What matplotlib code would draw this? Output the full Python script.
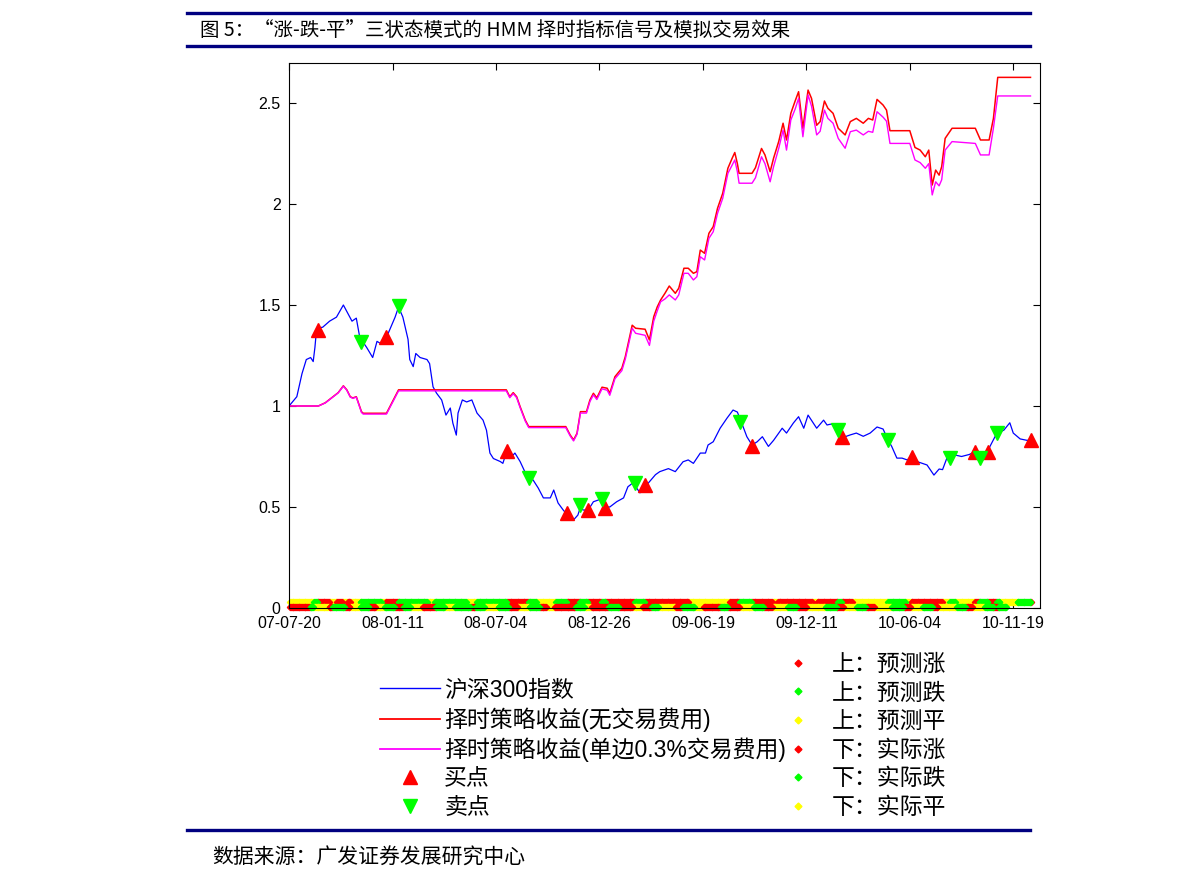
import matplotlib.pyplot as plt
from matplotlib.lines import Line2D
import numpy as np

plt.rcParams['font.family'] = ['Liberation Sans', 'Noto Sans CJK SC']

# ---- data (trading-day index from 07-07-20) ----
hs300_day = [0, 9, 15, 20, 25, 28, 30, 32, 39, 47, 55, 63, 68, 73, 78, 82, 90, 97, 102, 106,
             109, 113, 117, 123, 127, 132, 138, 140, 144, 147, 152, 160, 163, 167, 171, 177, 182, 187, 190, 194,
             196, 201, 206, 212, 218, 225, 229, 233, 237, 245, 248, 251, 253, 256, 262, 268, 274, 278, 283, 289,
             295, 303, 307, 312, 318, 321, 330, 335, 338, 341, 347, 353, 359, 363, 367, 372, 380, 388, 393, 399,
             407, 415, 425, 430, 440, 448, 457, 463, 469, 477, 483, 486, 492, 500, 508, 515, 520, 525, 531, 537,
             543, 549, 556, 562, 572, 577, 585, 591, 597, 602, 612, 620, 624, 628, 634, 637, 641, 645, 651, 658,
             666, 674, 682, 689, 695, 699, 705, 711, 717, 722, 729, 740, 748, 754, 758, 763, 767, 773, 780, 789,
             796, 801, 806, 811, 813, 821, 829, 836, 840, 848, 856, 861]
hs300 = [1.0, 1.046, 1.16, 1.23, 1.24, 1.22, 1.29, 1.385, 1.39, 1.42, 1.44, 1.50, 1.46, 1.42, 1.435, 1.34, 1.29, 1.24, 1.32, 1.31,
         1.31, 1.34, 1.38, 1.44, 1.49, 1.44, 1.33, 1.23, 1.195, 1.26, 1.24, 1.23, 1.21, 1.095, 1.064, 1.03, 0.955, 0.99, 0.915, 0.856,
         0.965, 1.03, 1.02, 1.03, 0.965, 0.93, 0.88, 0.767, 0.74, 0.725, 0.716, 0.757, 0.77, 0.74, 0.767, 0.725, 0.67, 0.64, 0.634, 0.594,
         0.545, 0.545, 0.584, 0.52, 0.485, 0.47, 0.436, 0.46, 0.50, 0.485, 0.485, 0.526, 0.535, 0.535, 0.50, 0.50, 0.526, 0.545, 0.60, 0.62,
         0.57, 0.61, 0.66, 0.675, 0.69, 0.675, 0.724, 0.733, 0.716, 0.767, 0.767, 0.807, 0.823, 0.89, 0.94, 0.98, 0.97, 0.916, 0.848, 0.807,
         0.823, 0.848, 0.80, 0.83, 0.89, 0.866, 0.916, 0.947, 0.89, 0.955, 0.89, 0.93, 0.906, 0.91, 0.906, 0.88, 0.848, 0.848, 0.857, 0.866,
         0.85, 0.866, 0.896, 0.886, 0.83, 0.80, 0.742, 0.742, 0.733, 0.75, 0.724, 0.708, 0.658, 0.688, 0.685, 0.742, 0.742, 0.757, 0.75, 0.76,
         0.774, 0.742, 0.76, 0.774, 0.80, 0.866, 0.88, 0.917, 0.866, 0.837, 0.83, 0.83]

strat_day = [0, 34, 42, 51, 57, 63, 67, 71, 74, 78, 84, 86, 113, 127, 252, 256, 260, 264, 268, 274,
             278, 321, 326, 330, 334, 338, 345, 349, 353, 357, 363, 369, 372, 378, 386, 390, 398, 402, 413, 418,
             423, 427, 431, 436, 441, 448, 452, 458, 463, 469, 473, 477, 482, 487, 492, 497, 503, 509, 514, 517,
             520, 522, 537, 541, 548, 552, 558, 562, 568, 573, 577, 582, 587, 591, 596, 602, 606, 612, 616, 621,
             625, 631, 637, 645, 651, 658, 666, 672, 677, 682, 689, 693, 697, 720, 726, 732, 738, 742, 746, 750,
             754, 757, 761, 769, 796, 802, 812, 817, 822, 860]
strat_nofee = [1.0, 1.0, 1.016, 1.046, 1.066, 1.10, 1.08, 1.046, 1.04, 1.046, 0.972, 0.964, 0.964, 1.08, 1.08, 1.046, 1.066, 1.046, 0.997, 0.93,
               0.898, 0.898, 0.857, 0.832, 0.865, 0.972, 0.972, 1.03, 1.063, 1.04, 1.093, 1.088, 1.063, 1.145, 1.187, 1.244, 1.40, 1.385, 1.38, 1.327,
               1.442, 1.49, 1.525, 1.558, 1.594, 1.558, 1.583, 1.682, 1.682, 1.657, 1.665, 1.772, 1.756, 1.855, 1.888, 1.979, 2.053, 2.177, 2.227, 2.255,
               2.20, 2.152, 2.152, 2.18, 2.275, 2.243, 2.16, 2.227, 2.31, 2.40, 2.317, 2.449, 2.51, 2.556, 2.375, 2.564, 2.523, 2.39, 2.408, 2.51,
               2.474, 2.449, 2.375, 2.342, 2.408, 2.424, 2.40, 2.424, 2.416, 2.518, 2.49, 2.465, 2.363, 2.363, 2.28, 2.267, 2.234, 2.267, 2.094, 2.168,
               2.143, 2.185, 2.325, 2.375, 2.375, 2.317, 2.317, 2.424, 2.627, 2.627]
strat_fee = [1.0, 1.0, 1.015, 1.045, 1.065, 1.098, 1.078, 1.044, 1.038, 1.044, 0.968, 0.960, 0.960, 1.075, 1.075, 1.041, 1.061, 1.041, 0.992, 0.925,
             0.893, 0.893, 0.852, 0.827, 0.86, 0.965, 0.965, 1.022, 1.055, 1.032, 1.085, 1.078, 1.053, 1.135, 1.175, 1.232, 1.385, 1.36, 1.35, 1.30,
             1.42, 1.47, 1.516, 1.53, 1.55, 1.525, 1.55, 1.657, 1.657, 1.624, 1.64, 1.739, 1.723, 1.83, 1.863, 1.954, 2.028, 2.152, 2.193, 2.218,
             2.16, 2.103, 2.103, 2.13, 2.234, 2.20, 2.11, 2.185, 2.276, 2.366, 2.267, 2.416, 2.47, 2.523, 2.333, 2.54, 2.485, 2.342, 2.36, 2.465,
             2.424, 2.40, 2.325, 2.276, 2.358, 2.366, 2.342, 2.36, 2.355, 2.457, 2.43, 2.41, 2.30, 2.30, 2.218, 2.205, 2.177, 2.20, 2.045, 2.11,
             2.09, 2.12, 2.267, 2.309, 2.30, 2.243, 2.243, 2.376, 2.535, 2.535]

buy_day = [34, 113, 253, 322, 347, 367, 413, 537, 641, 722, 796, 811, 861]
buy_val = [1.376, 1.342, 0.777, 0.47, 0.485, 0.495, 0.609, 0.80, 0.847, 0.748, 0.774, 0.774, 0.83]
sell_day = [83, 128, 278, 338, 363, 401, 523, 637, 695, 767, 801, 821]
sell_val = [1.318, 1.495, 0.644, 0.51, 0.54, 0.62, 0.922, 0.88, 0.83, 0.742, 0.742, 0.866]

# signal strips: r = up, g = down, y = flat  (run lengths in days)
pred_runs = [('y', 28), ('g', 4), ('r', 14), ('y', 9), ('r', 6), ('y', 6), ('r', 4), ('y', 11), ('g', 25), ('y', 5),
             ('r', 14), ('g', 34), ('y', 8), ('g', 37), ('y', 12), ('g', 35), ('r', 25), ('g', 9), ('y', 23), ('g', 12),
             ('r', 16), ('g', 9), ('r', 16), ('g', 4), ('r', 34), ('g', 12), ('r', 51), ('y', 48), ('r', 11), ('g', 14),
             ('r', 24), ('y', 6), ('r', 40), ('y', 6), ('r', 24), ('g', 4), ('r', 13), ('y', 41), ('g', 20), ('y', 7),
             ('r', 36), ('y', 9), ('g', 6), ('y', 23), ('r', 5), ('g', 10), ('r', 10), ('g', 4), ('y', 20), ('g', 16),
             ('r', 1)]
real_runs = [('r', 24), ('g', 4), ('y', 18), ('r', 4), ('g', 14), ('r', 6), ('y', 12), ('g', 10), ('r', 8), ('y', 10),
             ('g', 12), ('r', 10), ('g', 8), ('y', 14), ('r', 16), ('g', 10), ('y', 12), ('g', 18), ('r', 6), ('g', 10),
             ('y', 16), ('g', 12), ('r', 10), ('y', 14), ('g', 12), ('r', 8), ('y', 10), ('r', 24), ('g', 10), ('y', 8),
             ('r', 20), ('g', 12), ('r', 16), ('y', 12), ('r', 10), ('g', 8), ('y', 20), ('r', 8), ('g', 14), ('y', 10),
             ('r', 20), ('g', 8), ('r', 14), ('y', 16), ('g', 12), ('r', 10), ('y', 18), ('g', 10), ('r', 12), ('y', 22),
             ('g', 12), ('r', 8), ('y', 16), ('g', 10), ('r', 10), ('y', 20), ('g', 14), ('r', 8), ('y', 14), ('g', 12),
             ('r', 6), ('y', 22), ('g', 10), ('r', 8), ('y', 14), ('g', 10), ('r', 6), ('g', 10)]

xtick_day = [0, 120, 240, 360, 480, 600, 720, 840]
xtick_labels = ['07-07-20', '08-01-11', '08-07-04', '08-12-26', '09-06-19', '09-12-11', '10-06-04', '10-11-19']
ytick_vals = [0, 0.5, 1, 1.5, 2, 2.5]
ytick_labels = ['0', '0.5', '1', '1.5', '2', '2.5']

colors = {'r': '#ff0000', 'g': '#00ff00', 'y': '#ffff00'}

title = '图 5：“涨-跌-平”三状态模式的 HMM 择时指标信号及模拟交易效果'
source = '数据来源：广发证券发展研究中心'

fig = plt.figure(figsize=(11.91, 8.89), dpi=100)
ax = fig.add_axes([0.2427, 0.3161, 0.6305, 0.613])

ax.plot(hs300_day, hs300, color='#0000ff', lw=0.9)
ax.plot(strat_day, strat_nofee, color='#ff0000', lw=1.1)
ax.plot(strat_day, strat_fee, color='#ff00ff', lw=1.0)
ax.plot(buy_day, buy_val, ls='none', marker='^', color='#ff0000', ms=10, mec='#ff0000')
ax.plot(sell_day, sell_val, ls='none', marker='v', color='#00ff00', ms=10, mec='#00ff00')


def expand(runs):
    codes = []
    for c, n in runs:
        codes += [c] * n
    return np.array(codes)


for runs, level in [(pred_runs, 0.028), (real_runs, 0.006)]:
    codes = expand(runs)
    days = np.arange(1, len(codes) + 1)
    for c in 'yrg':
        d = days[codes == c]
        ax.plot(d, np.full(len(d), level), ls='none', marker='D', ms=3.2,
                color=colors[c], mec=colors[c], clip_on=False)

ax.set_xlim(0, 871)
ax.set_ylim(0, 2.698)
ax.set_xticks(xtick_day)
ax.set_xticklabels(xtick_labels)
ax.set_yticks(ytick_vals)
ax.set_yticklabels(ytick_labels)
ax.tick_params(direction='in', top=True, right=True, length=5, width=0.8, labelsize=11.5)
ax.tick_params(axis='x', pad=6)
ax.tick_params(axis='y', pad=6)
for s in ax.spines.values():
    s.set_linewidth(0.8)

# legends
h_left = [Line2D([], [], color='#0000ff', lw=1.0),
          Line2D([], [], color='#ff0000', lw=1.3),
          Line2D([], [], color='#ff00ff', lw=1.3),
          Line2D([], [], ls='none', marker='^', color='#ff0000', ms=10),
          Line2D([], [], ls='none', marker='v', color='#00ff00', ms=10)]
l_left = ['沪深300指数', '择时策略收益(无交易费用)', '择时策略收益(单边0.3%交易费用)', '买点', '卖点']
h_right = [Line2D([], [], ls='none', marker='D', ms=3.5, color=colors[c]) for c in 'rgyrgy']
l_right = ['上：预测涨', '上：预测跌', '上：预测平', '下：实际涨', '下：实际跌', '下：实际平']

leg_kw = dict(frameon=False, fontsize=16.5, handlelength=2.6, handletextpad=0.2,
              labelspacing=0.245, borderpad=0, borderaxespad=0, loc='lower left',
              bbox_transform=fig.transFigure)
leg1 = ax.legend(h_left, l_left, bbox_to_anchor=(380 / 1191, 0.0788), **leg_kw)
ax.add_artist(leg1)
ax.legend(h_right, l_right, bbox_to_anchor=(768 / 1191, 0.0788), **leg_kw)

# header / footer rules
navy = '#000080'
for yy in [1 - 13 / 889, 1 - 46 / 889, 1 - 830 / 889]:
    fig.add_artist(Line2D([187 / 1191, 1030 / 1191], [yy, yy], color=navy, lw=2.4))
fig.text(200 / 1191, 1 - 30 / 889, title, fontsize=14, va='center', ha='left',
         family=['Noto Sans CJK SC'])
fig.text(212 / 1191, 1 - 858 / 889, source, fontsize=15, va='center', ha='left',
         family=['Noto Sans CJK SC'])

fig.savefig('out.png', dpi=100)
